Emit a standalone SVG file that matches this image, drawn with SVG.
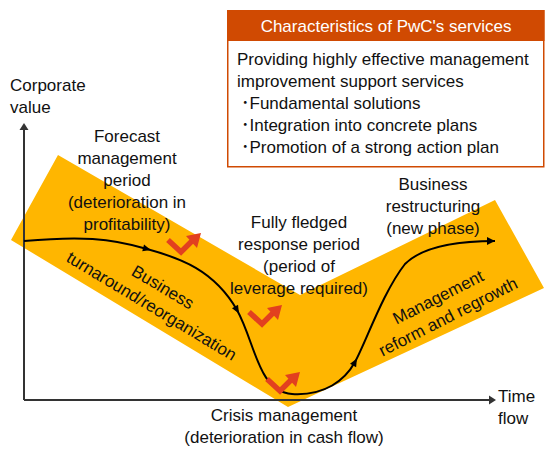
<svg xmlns="http://www.w3.org/2000/svg" width="555" height="456" viewBox="0 0 555 456">
<style>
text{font-family:"Liberation Sans","Noto Sans CJK JP",sans-serif;font-size:17px;fill:#111}
.c{text-anchor:middle}
.ax{stroke:#333;stroke-width:2;fill:none}
.crv{stroke:#000;stroke-width:2;fill:none}
.hd{fill:#000}
.chk{fill:none;stroke:#E2401F;stroke-width:5.5;stroke-linejoin:miter}
.chkh{fill:#E2401F}
</style>
<defs>
<marker id="ah" markerWidth="10" markerHeight="10" refX="8" refY="4" orient="auto" markerUnits="userSpaceOnUse">
<path d="M0,0 L8,4 L0,8 Z" fill="#000"/>
</marker>
<g id="icon">
<polyline class="chk" points="2,7 15,19 26,8"/>
<polygon class="chkh" points="35,0 20,3 31,15"/>
</g>
</defs>
<g id="band">
<polygon points="58,155 300,295 495,200 544,288 288,407 11,240" fill="#FFB600"/>
</g>
<g id="axes">
<line class="ax" x1="24" y1="400" x2="24" y2="128"/>
<polygon points="24,123 19.5,130 28.5,130" fill="#333"/>
<line class="ax" x1="24" y1="400" x2="490" y2="400"/>
<polygon points="496,400 489,395.5 489,404.5" fill="#333"/>
</g>
<g id="connectors">
<path class="crv" marker-end="url(#ah)" d="M24,241 C80,236 110,238 147,249 C180,258 214,270 237,310 C255,342 258,392 292,394 C325,396 345,380 355,362 C366,342 383,292 405,264 C422,247 455,241 495,241"/>
<polygon class="hd" points="4,0 -4,-3.5 -4,3.5" transform="translate(147,249) rotate(15)"/>
<polygon class="hd" points="4,0 -4,-3.5 -4,3.5" transform="translate(237,310) rotate(60)"/>
<polygon class="hd" points="4,0 -4,-3.5 -4,3.5" transform="translate(355,362) rotate(-61)"/>
</g>
<g id="icons">
<use href="#icon" x="166" y="233"/>
<use href="#icon" x="247" y="305"/>
<use href="#icon" x="265" y="372"/>
</g>
<g id="services-box">
<rect x="227.75" y="10.75" width="316" height="156" fill="#fff" stroke="#D04A02" stroke-width="1.5"/>
<rect x="227" y="10" width="317.5" height="31" fill="#D04A02"/>
<text class="c" x="386" y="32" style="fill:#fff">Characteristics of PwC's services</text>
<text x="237" y="65">Providing highly effective management</text>
<text x="237" y="87">improvement support services</text>
<text x="241" y="109">･Fundamental solutions</text>
<text x="241" y="131">･Integration into concrete plans</text>
<text x="241" y="153">･Promotion of a strong action plan</text>
</g>
<g id="y-label">
<text x="10" y="91">Corporate</text>
<text x="10" y="113">value</text>
</g>
<g id="x-label">
<text x="498" y="402">Time</text>
<text x="498" y="424">flow</text>
</g>
<g id="forecast">
<text class="c" x="127" y="142">Forecast</text>
<text class="c" x="127" y="164">management</text>
<text class="c" x="127" y="186">period</text>
<text class="c" x="127" y="208">(deterioration in</text>
<text class="c" x="127" y="230">profitability)</text>
</g>
<g id="restructuring">
<text class="c" x="433" y="190">Business</text>
<text class="c" x="433" y="212">restructuring</text>
<text class="c" x="433" y="234">(new phase)</text>
</g>
<g id="response">
<text class="c" x="299" y="228">Fully fledged</text>
<text class="c" x="299" y="250">response period</text>
<text class="c" x="299" y="272">(period of</text>
<text class="c" x="299" y="294">leverage required)</text>
</g>
<g id="crisis">
<text class="c" x="284" y="421">Crisis management</text>
<text class="c" x="284" y="443">(deterioration in cash flow)</text>
</g>
<g id="turnaround">
<text class="c" transform="translate(163,287) rotate(31)"><tspan x="0" y="6">Business</tspan><tspan x="0" y="28">turnaround/reorganization</tspan></text>
</g>
<g id="reform">
<text class="c" transform="translate(438,297) rotate(-27)"><tspan x="0" y="6">Management</tspan><tspan x="0" y="28">reform and regrowth</tspan></text>
</g>
</svg>
